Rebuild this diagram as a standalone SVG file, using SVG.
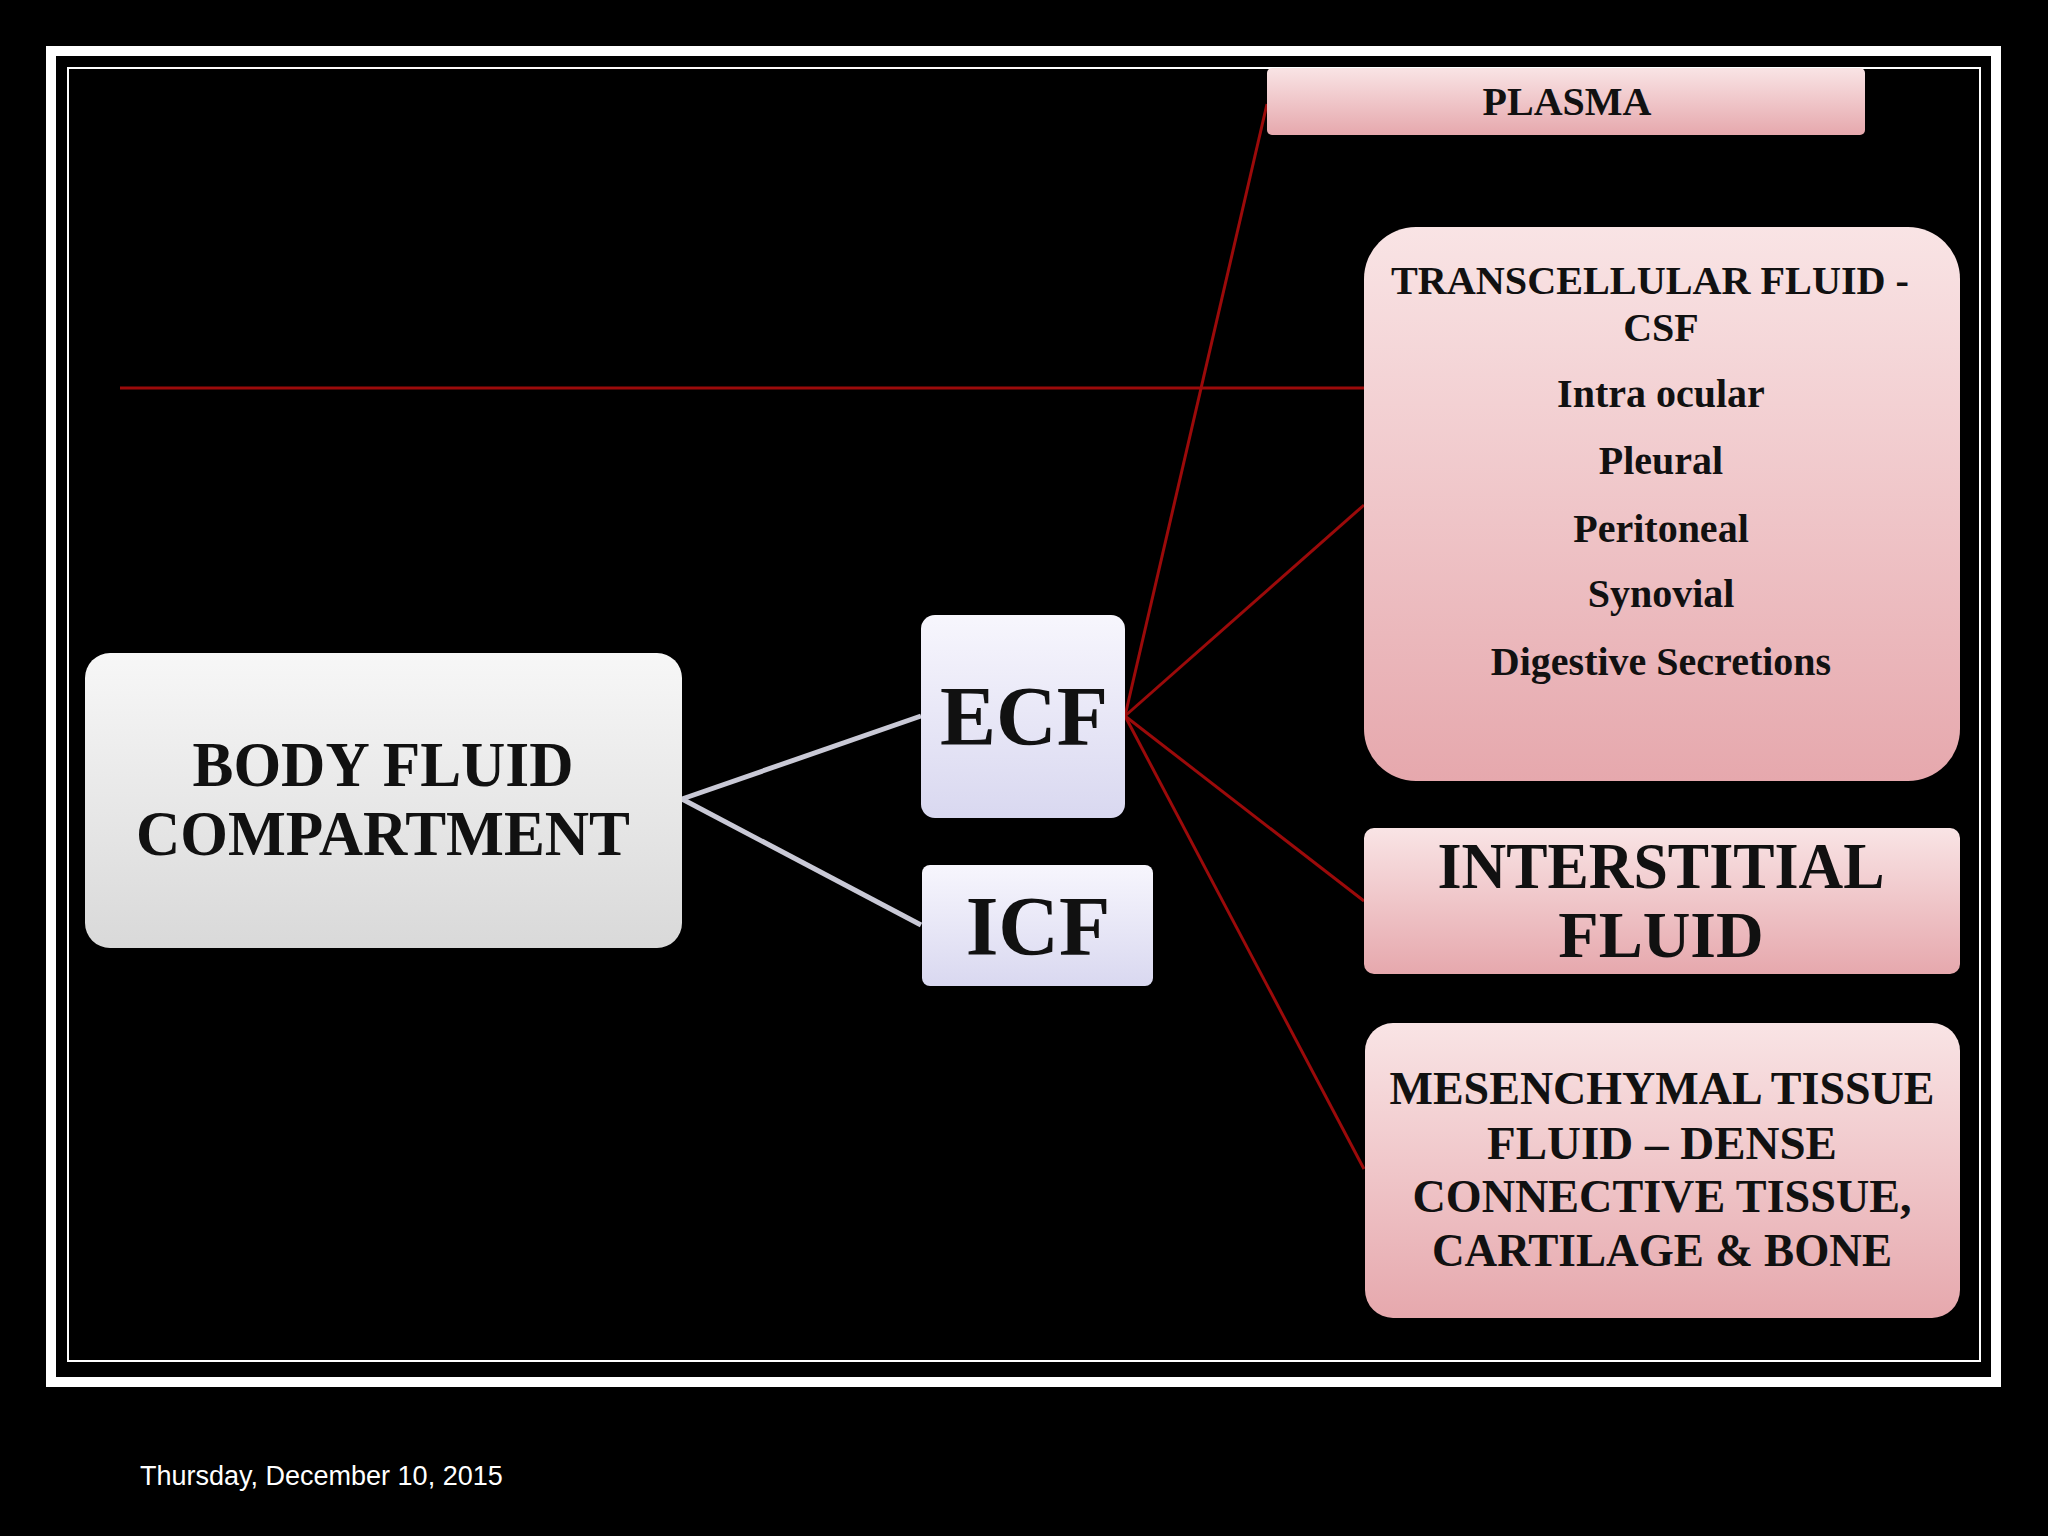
<svg xmlns="http://www.w3.org/2000/svg" width="2048" height="1536" viewBox="0 0 2048 1536">
<defs>
<linearGradient id="gw" x1="0" y1="0" x2="0" y2="1"><stop offset="0" stop-color="#f7f7f7"/><stop offset="1" stop-color="#d9d9d9"/></linearGradient>
<linearGradient id="gl" x1="0" y1="0" x2="0" y2="1"><stop offset="0" stop-color="#f7f6fd"/><stop offset="1" stop-color="#d9d8f0"/></linearGradient>
<linearGradient id="gp" x1="0" y1="0" x2="0" y2="1"><stop offset="0" stop-color="#f9e4e5"/><stop offset="1" stop-color="#e6a8ad"/></linearGradient>
<style>
.t{font-family:"Liberation Serif","DejaVu Serif",serif;font-weight:bold;fill:#111;text-anchor:middle}
.red{stroke:#9b0a0a;stroke-width:3;fill:none}
.gr{stroke:#c9c9d6;stroke-width:5;fill:none}
</style>
</defs>
<rect width="2048" height="1536" fill="#000"/>
<rect x="51" y="51" width="1945" height="1331" fill="none" stroke="#fff" stroke-width="10"/>
<rect x="68" y="68" width="1912" height="1293" fill="none" stroke="#fff" stroke-width="2"/>
<g id="connectors">
<line class="red" x1="120" y1="388" x2="1364" y2="388"/>
<line class="gr" x1="682" y1="799" x2="921" y2="716"/>
<line class="gr" x1="682" y1="799" x2="921" y2="925"/>
<line class="red" x1="1125" y1="716" x2="1267" y2="104"/>
<line class="red" x1="1125" y1="716" x2="1364" y2="505"/>
<line class="red" x1="1125" y1="716" x2="1364" y2="901"/>
<line class="red" x1="1125" y1="716" x2="1364" y2="1169"/>
</g>
<g id="plasma"><rect x="1267" y="68" width="598" height="67" rx="5" fill="url(#gp)"/><text class="t" x="1567" y="115" font-size="40">PLASMA</text></g>
<g id="transcellular"><rect x="1364" y="227" width="596" height="554" rx="52" fill="url(#gp)"/>
<text class="t" font-size="40"><tspan x="1650" y="294" textLength="518" lengthAdjust="spacingAndGlyphs">TRANSCELLULAR FLUID -</tspan><tspan x="1661" y="341">CSF</tspan><tspan x="1661" y="407">Intra ocular</tspan><tspan x="1661" y="474">Pleural</tspan><tspan x="1661" y="542">Peritoneal</tspan><tspan x="1661" y="607">Synovial</tspan><tspan x="1661" y="675">Digestive Secretions</tspan></text></g>
<g id="interstitial"><rect x="1364" y="828" width="596" height="146" rx="10" fill="url(#gp)"/>
<text class="t" font-size="66"><tspan x="1661" y="888" textLength="447" lengthAdjust="spacingAndGlyphs">INTERSTITIAL</tspan><tspan x="1661" y="957">FLUID</tspan></text></g>
<g id="mesenchymal"><rect x="1365" y="1023" width="595" height="295" rx="28" fill="url(#gp)"/>
<text class="t" font-size="47"><tspan x="1662" y="1104" textLength="545" lengthAdjust="spacingAndGlyphs">MESENCHYMAL TISSUE</tspan><tspan x="1662" y="1159">FLUID – DENSE</tspan><tspan x="1662" y="1212" textLength="499" lengthAdjust="spacingAndGlyphs">CONNECTIVE TISSUE,</tspan><tspan x="1662" y="1266" textLength="460" lengthAdjust="spacingAndGlyphs">CARTILAGE &amp; BONE</tspan></text></g>
<g id="body"><rect x="85" y="653" width="597" height="295" rx="25" fill="url(#gw)"/>
<text class="t" font-size="64"><tspan x="383" y="786" textLength="381" lengthAdjust="spacingAndGlyphs">BODY FLUID</tspan><tspan x="383" y="855" textLength="494" lengthAdjust="spacingAndGlyphs">COMPARTMENT</tspan></text></g>
<g id="ecf"><rect x="921" y="615" width="204" height="203" rx="14" fill="url(#gl)"/><text class="t" x="1024" y="745" font-size="84">ECF</text></g>
<g id="icf"><rect x="922" y="865" width="231" height="121" rx="8" fill="url(#gl)"/><text class="t" x="1038" y="955" font-size="84">ICF</text></g>
<text x="140" y="1485" font-family="Liberation Sans,Arial,sans-serif" font-size="27" fill="#fff">Thursday, December 10, 2015</text>
</svg>
